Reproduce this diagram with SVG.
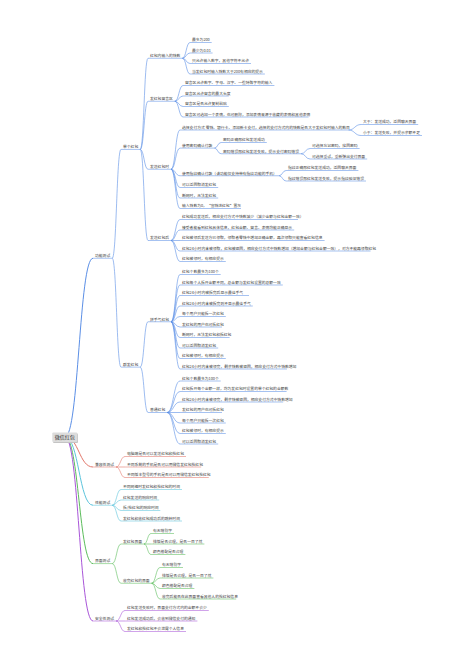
<svg xmlns="http://www.w3.org/2000/svg" width="474" height="670" viewBox="0 0 474 670">
<style>
.t{font-family:"Noto Sans CJK SC","Noto Sans CJK JP",sans-serif;font-size:3.8px;fill:#404040}
.r{font-family:"Noto Sans CJK SC","Noto Sans CJK JP",sans-serif;font-size:5px;fill:#222;text-anchor:middle}
.u{fill:none;stroke-width:.55}
.c{fill:none;stroke-width:.6}
.c1{fill:none;stroke-width:1}
.bl{stroke:#5b8fe6}.rd{stroke:#e2766a}.tl{stroke:#5cc4dc}.gn{stroke:#5cbd5c}.pp{stroke:#a956d9}
</style>
<rect width="474" height="670" fill="#fff"/>
<g id="connectors">
<path class="c1 bl" d="M65 437C79 437 79 258.25 93 258.25"/>
<path class="c1 rd" d="M65 437C79 437 79 467 93 467"/>
<path class="c1 tl" d="M65 437C79 437 79 505.25 93 505.25"/>
<path class="c1 gn" d="M65 437C79 437 79 563.6 93 563.6"/>
<path class="c1 pp" d="M65 437C79 437 79 621 93 621"/>
<path class="c bl" d="M112.2 258.25C116.6 258.25 116.6 149.4 121 149.4M112.2 258.25C116.6 258.25 116.6 367.1 121 367.1"/>
<path class="c bl" d="M140.2 149.4C144.1 149.4 144.1 58.25 148 58.25M140.2 149.4C144.1 149.4 144.1 101.25 148 101.25M140.2 149.4C144.1 149.4 144.1 169.25 148 169.25M140.2 149.4C144.1 149.4 144.1 240.5 148 240.5"/>
<path class="c bl" d="M140.2 367.1C144.1 367.1 144.1 321.75 148 321.75M140.2 367.1C144.1 367.1 144.1 412.5 148 412.5"/>
<path class="c bl" d="M182.4 58.25C186.2 58.25 186.2 42.5 190 42.5M182.4 58.25C186.2 58.25 186.2 53 190 53M182.4 58.25C186.2 58.25 186.2 63.5 190 63.5M182.4 58.25C186.2 58.25 186.2 74 190 74"/>
<path class="c bl" d="M174.8 101.25C178.9 101.25 178.9 85.5 183 85.5M174.8 101.25C178.9 101.25 178.9 96 183 96M174.8 101.25C178.9 101.25 178.9 106.5 183 106.5M174.8 101.25C178.9 101.25 178.9 117 183 117"/>
<path class="c bl" d="M171 169.25C175.5 169.25 175.5 130 180 130M171 169.25C175.5 169.25 175.5 148.1 180 148.1M171 169.25C175.5 169.25 175.5 175.75 180 175.75M171 169.25C175.5 169.25 175.5 187.5 180 187.5M171 169.25C175.5 169.25 175.5 198 180 198M171 169.25C175.5 169.25 175.5 208.5 180 208.5"/>
<path class="c bl" d="M348.5 130C354.75 130 354.75 124.5 361 124.5M348.5 130C354.75 130 354.75 135.5 361 135.5"/>
<path class="c bl" d="M214.4 148.1C217.7 148.1 217.7 142.5 221 142.5M214.4 148.1C217.7 148.1 217.7 153.75 221 153.75"/>
<path class="c bl" d="M301 153.75C305.5 153.75 305.5 148.5 310 148.5M301 153.75C305.5 153.75 305.5 159 310 159"/>
<path class="c bl" d="M279 175.75C282.5 175.75 282.5 170.5 286 170.5M279 175.75C282.5 175.75 282.5 181 286 181"/>
<path class="c bl" d="M171 240.5C175.5 240.5 175.5 219.5 180 219.5M171 240.5C175.5 240.5 175.5 230 180 230M171 240.5L180 240.5M171 240.5C175.5 240.5 175.5 251 180 251M171 240.5C175.5 240.5 175.5 261.5 180 261.5"/>
<path class="c bl" d="M171 321.75C175.5 321.75 175.5 274.5 180 274.5M171 321.75C175.5 321.75 175.5 285 180 285M171 321.75C175.5 321.75 175.5 295.5 180 295.5M171 321.75C175.5 321.75 175.5 306 180 306M171 321.75C175.5 321.75 175.5 316.5 180 316.5M171 321.75C175.5 321.75 175.5 327 180 327M171 321.75C175.5 321.75 175.5 337.5 180 337.5M171 321.75C175.5 321.75 175.5 348 180 348M171 321.75C175.5 321.75 175.5 358.5 180 358.5M171 321.75C175.5 321.75 175.5 369 180 369"/>
<path class="c bl" d="M167.2 412.5C173.6 412.5 173.6 381 180 381M167.2 412.5C173.6 412.5 173.6 391.5 180 391.5M167.2 412.5C173.6 412.5 173.6 402 180 402M167.2 412.5L180 412.5M167.2 412.5C173.6 412.5 173.6 423 180 423M167.2 412.5C173.6 412.5 173.6 433.5 180 433.5M167.2 412.5C173.6 412.5 173.6 444 180 444"/>
<path class="c rd" d="M116 467C120.5 467 120.5 456.5 125 456.5M116 467L125 467M116 467C120.5 467 120.5 477.5 125 477.5"/>
<path class="c tl" d="M112.2 505.25C116.6 505.25 116.6 489.5 121 489.5M112.2 505.25C116.6 505.25 116.6 500 121 500M112.2 505.25C116.6 505.25 116.6 510.5 121 510.5M112.2 505.25C116.6 505.25 116.6 521 121 521"/>
<path class="c gn" d="M112.2 563.6C116.6 563.6 116.6 544 121 544M112.2 563.6C116.6 563.6 116.6 583.25 121 583.25"/>
<path class="c gn" d="M144 544C147.5 544 147.5 533.5 151 533.5M144 544L151 544M144 544C147.5 544 147.5 554.5 151 554.5"/>
<path class="c gn" d="M151.6 583.25C155.8 583.25 155.8 567.5 160 567.5M151.6 583.25C155.8 583.25 155.8 578 160 578M151.6 583.25C155.8 583.25 155.8 588.5 160 588.5M151.6 583.25C155.8 583.25 155.8 599 160 599"/>
<path class="c pp" d="M116 621C120.5 621 120.5 610.5 125 610.5M116 621L125 621M116 621C120.5 621 120.5 631.5 125 631.5"/>
</g>
<g id="root">
<rect x="53" y="433.5" width="25" height="9.5" rx="1" fill="#c4c4c4"/>
<rect x="52.3" y="432.5" width="25" height="9.5" rx="1" fill="#dcdcdc"/>
<text class="r" x="64.8" y="439.1">微信红包</text>
</g>
<g id="n-func"><line class="u bl" x1="93" y1="258.25" x2="112.2" y2="258.25"/><text class="t" x="95" y="257.05">功能测试</text></g>
<g id="n-compat"><line class="u rd" x1="93" y1="467" x2="116" y2="467"/><text class="t" x="95" y="465.8">兼容性测试</text></g>
<g id="n-perf"><line class="u tl" x1="93" y1="505.25" x2="112.2" y2="505.25"/><text class="t" x="95" y="504.05">性能测试</text></g>
<g id="n-ui"><line class="u gn" x1="93" y1="563.6" x2="112.2" y2="563.6"/><text class="t" x="95" y="562.4">界面测试</text></g>
<g id="n-sec"><line class="u pp" x1="93" y1="621" x2="116" y2="621"/><text class="t" x="95" y="619.8">安全性测试</text></g>
<g id="n-single"><line class="u bl" x1="121" y1="149.4" x2="140.2" y2="149.4"/><text class="t" x="123" y="148.2">单个红包</text></g>
<g id="n-group"><line class="u bl" x1="121" y1="367.1" x2="140.2" y2="367.1"/><text class="t" x="123" y="365.9">群发红包</text></g>
<g id="n-amount"><line class="u bl" x1="148" y1="58.25" x2="182.4" y2="58.25"/><text class="t" x="150" y="57.05">红包内输入的钱数</text></g>
<g id="n-msg"><line class="u bl" x1="148" y1="101.25" x2="174.8" y2="101.25"/><text class="t" x="150" y="100.05">发红包留言区</text></g>
<g id="n-sending"><line class="u bl" x1="148" y1="169.25" x2="171" y2="169.25"/><text class="t" x="150" y="168.05">发送红包时</text></g>
<g id="n-sent"><line class="u bl" x1="148" y1="240.5" x2="171" y2="240.5"/><text class="t" x="150" y="239.3">发送红包后</text></g>
<g id="n-lucky"><line class="u bl" x1="148" y1="321.75" x2="171" y2="321.75"/><text class="t" x="150" y="320.55">拼手气红包</text></g>
<g id="n-normal"><line class="u bl" x1="148" y1="412.5" x2="167.2" y2="412.5"/><text class="t" x="150" y="411.3">普通红包</text></g>
<g id="a1"><line class="u bl" x1="190" y1="42.5" x2="211.7" y2="42.5"/><text class="t" x="192" y="41.3">最多为200</text></g>
<g id="a2"><line class="u bl" x1="190" y1="53" x2="212.6" y2="53"/><text class="t" x="192" y="51.8">最少为0.01</text></g>
<g id="a3"><line class="u bl" x1="190" y1="63.5" x2="251" y2="63.5"/><text class="t" x="192" y="62.3">只允许输入数字，其他字符不允许</text></g>
<g id="a4"><line class="u bl" x1="190" y1="74" x2="264.9" y2="74"/><text class="t" x="192" y="72.8">当发红包时输入钱数大于200有相应的提示</text></g>
<g id="m1"><line class="u bl" x1="183" y1="85.5" x2="274.4" y2="85.5"/><text class="t" x="185" y="84.3">留言区允许数字、字母、汉字、一些特殊字符的输入</text></g>
<g id="m2"><line class="u bl" x1="183" y1="96" x2="228.8" y2="96"/><text class="t" x="185" y="94.8">留言区允许留言的最大长度</text></g>
<g id="m3"><line class="u bl" x1="183" y1="106.5" x2="228.8" y2="106.5"/><text class="t" x="185" y="105.3">留言区是否允许复制粘贴</text></g>
<g id="m4"><line class="u bl" x1="183" y1="117" x2="308.6" y2="117"/><text class="t" x="185" y="115.8">留言区可选加一个表情，也可删除，添加表情来源于收藏的表情和其他表情</text></g>
<g id="s1"><line class="u bl" x1="180" y1="130" x2="348.5" y2="130"/><text class="t" x="182" y="128.8">选择支付方式 零钱、银行卡、添加新卡支付，选择的支付方式内的钱数是否大于发红包时输入的数目</text></g>
<g id="s1a"><line class="u bl" x1="361" y1="124.5" x2="418.2" y2="124.5"/><text class="t" x="363" y="123.3">大于：发送成功，返回聊天界面</text></g>
<g id="s1b"><line class="u bl" x1="361" y1="135.5" x2="422" y2="135.5"/><text class="t" x="363" y="134.3">小于：发送失败，并提示余额不足</text></g>
<g id="s2"><line class="u bl" x1="180" y1="148.1" x2="214.4" y2="148.1"/><text class="t" x="182" y="146.9">使用密码确认付款</text></g>
<g id="s2a"><line class="u bl" x1="221" y1="142.5" x2="266.8" y2="142.5"/><text class="t" x="223" y="141.3">密码正确即红包发送成功</text></g>
<g id="s2b"><line class="u bl" x1="221" y1="153.75" x2="301" y2="153.75"/><text class="t" x="223" y="152.55">密码错误即红包发送失败，提示支付密码错误</text></g>
<g id="s2b1"><line class="u bl" x1="310" y1="148.5" x2="359.6" y2="148.5"/><text class="t" x="312" y="147.3">可选择忘记密码，找回密码</text></g>
<g id="s2b2"><line class="u bl" x1="310" y1="159" x2="367.2" y2="159"/><text class="t" x="312" y="157.8">可选择重试，重新弹出支付界面</text></g>
<g id="s3"><line class="u bl" x1="180" y1="175.75" x2="279" y2="175.75"/><text class="t" x="182" y="174.55">使用指纹确认付款（该功能仅支持带有指纹功能的手机）</text></g>
<g id="s3a"><line class="u bl" x1="286" y1="170.5" x2="358.4" y2="170.5"/><text class="t" x="288" y="169.3">指纹正确即红包发送成功，返回聊天界面</text></g>
<g id="s3b"><line class="u bl" x1="286" y1="181" x2="366" y2="181"/><text class="t" x="288" y="179.8">指纹错误即红包发送失败，提示指纹验证错误</text></g>
<g id="s4"><line class="u bl" x1="180" y1="187.5" x2="218.2" y2="187.5"/><text class="t" x="182" y="186.3">可以返回取消发红包</text></g>
<g id="s5"><line class="u bl" x1="180" y1="198" x2="218.2" y2="198"/><text class="t" x="182" y="196.8">断网时，无法发红包</text></g>
<g id="s6"><line class="u bl" x1="180" y1="208.5" x2="241" y2="208.5"/><text class="t" x="182" y="207.3">输入钱数为0，“塞钱进红包”置灰</text></g>
<g id="t1"><line class="u bl" x1="180" y1="219.5" x2="298" y2="219.5"/><text class="t" x="182" y="218.3">红包成功发送后，相应支付方式中钱数减少（减少金额与红包金额一致）</text></g>
<g id="t2"><line class="u bl" x1="180" y1="230" x2="294.2" y2="230"/><text class="t" x="182" y="228.8">接受者能看到红包具体信息，红包金额、留言、表情均能正确显示</text></g>
<g id="t3"><line class="u bl" x1="180" y1="240.5" x2="324.6" y2="240.5"/><text class="t" x="182" y="239.3">红包被领后发送方已领取，领取者零钱中增加正确金额，再次领取只能查看红包信息</text></g>
<g id="t4"><line class="u bl" x1="180" y1="251" x2="370.6" y2="251"/><text class="t" x="182" y="249.8">红包24小时内未被领取，红包被退回，相应支付方式中钱数增加（增加金额与红包金额一致），对方不能再领取红包</text></g>
<g id="t5"><line class="u bl" x1="180" y1="261.5" x2="225.8" y2="261.5"/><text class="t" x="182" y="260.3">红包被领时，有相应提示</text></g>
<g id="l1"><line class="u bl" x1="180" y1="274.5" x2="220.7" y2="274.5"/><text class="t" x="182" y="273.3">红包个数最多为100个</text></g>
<g id="l2"><line class="u bl" x1="180" y1="285" x2="282.8" y2="285"/><text class="t" x="182" y="283.8">红包每个人拆开金额不同，总金额与发红包设置的总额一致</text></g>
<g id="l3"><line class="u bl" x1="180" y1="295.5" x2="249" y2="295.5"/><text class="t" x="182" y="294.3">红包24小时内被拆完后显示最佳手气</text></g>
<g id="l4"><line class="u bl" x1="180" y1="306" x2="252.8" y2="306"/><text class="t" x="182" y="304.8">红包24小时内未被拆完则不显示最佳手气</text></g>
<g id="l5"><line class="u bl" x1="180" y1="316.5" x2="225.8" y2="316.5"/><text class="t" x="182" y="315.3">每个用户只能拆一次红包</text></g>
<g id="l6"><line class="u bl" x1="180" y1="327" x2="222" y2="327"/><text class="t" x="182" y="325.8">发红包的用户也可拆红包</text></g>
<g id="l7"><line class="u bl" x1="180" y1="337.5" x2="229.6" y2="337.5"/><text class="t" x="182" y="336.3">断网时，无法发红包和拆红包</text></g>
<g id="l8"><line class="u bl" x1="180" y1="348" x2="218.2" y2="348"/><text class="t" x="182" y="346.8">可以返回取消发红包</text></g>
<g id="l9"><line class="u bl" x1="180" y1="358.5" x2="225.8" y2="358.5"/><text class="t" x="182" y="357.3">红包被领时，有相应提示</text></g>
<g id="l10"><line class="u bl" x1="180" y1="369" x2="287" y2="369"/><text class="t" x="182" y="367.8">红包24小时内未被领完，剩余钱数被退回，相应支付方式中钱数增加</text></g>
<g id="p1"><line class="u bl" x1="180" y1="381" x2="220.7" y2="381"/><text class="t" x="182" y="379.8">红包个数最多为100个</text></g>
<g id="p2"><line class="u bl" x1="180" y1="391.5" x2="286.6" y2="391.5"/><text class="t" x="182" y="390.3">红包拆开每个金额一样，均为发红包时设置的单个红包的金额数</text></g>
<g id="p3"><line class="u bl" x1="180" y1="402" x2="283.2" y2="402"/><text class="t" x="182" y="400.8">红包24小时内未被领完，剩余钱被退回，相应支付方式中钱数增加</text></g>
<g id="p4"><line class="u bl" x1="180" y1="412.5" x2="222" y2="412.5"/><text class="t" x="182" y="411.3">发红包的用户也可拆红包</text></g>
<g id="p5"><line class="u bl" x1="180" y1="423" x2="225.8" y2="423"/><text class="t" x="182" y="421.8">每个用户只能拆一次红包</text></g>
<g id="p6"><line class="u bl" x1="180" y1="433.5" x2="225.8" y2="433.5"/><text class="t" x="182" y="432.3">红包被领时，有相应提示</text></g>
<g id="p7"><line class="u bl" x1="180" y1="444" x2="218.2" y2="444"/><text class="t" x="182" y="442.8">可以返回取消发红包</text></g>
<g id="c1"><line class="u rd" x1="125" y1="456.5" x2="186" y2="456.5"/><text class="t" x="127" y="455.3">电脑端是否可以发送红包和抢红包</text></g>
<g id="c2"><line class="u rd" x1="125" y1="467" x2="201.2" y2="467"/><text class="t" x="127" y="465.8">不同系统的手机是否可以用微信发红包抢红包</text></g>
<g id="c3"><line class="u rd" x1="125" y1="477.5" x2="208.8" y2="477.5"/><text class="t" x="127" y="476.3">不同版本型号的手机是否可以用微信发红包抢红包</text></g>
<g id="f1"><line class="u tl" x1="121" y1="489.5" x2="182" y2="489.5"/><text class="t" x="123" y="488.3">不同网速时发红包和抢红包的时间</text></g>
<g id="f2"><line class="u tl" x1="121" y1="500" x2="159.2" y2="500"/><text class="t" x="123" y="498.8">红包发送的响应时间</text></g>
<g id="f3"><line class="u tl" x1="121" y1="510.5" x2="160.3" y2="510.5"/><text class="t" x="123" y="509.3">拆/抢红包的响应时间</text></g>
<g id="f4"><line class="u tl" x1="121" y1="521" x2="182" y2="521"/><text class="t" x="123" y="519.8">发红包和收红包成功后的跳转时间</text></g>
<g id="n-ui-send"><line class="u gn" x1="121" y1="544" x2="144" y2="544"/><text class="t" x="123" y="542.8">发红包界面</text></g>
<g id="n-ui-recv"><line class="u gn" x1="121" y1="583.25" x2="151.6" y2="583.25"/><text class="t" x="123" y="582.05">收完红包的界面</text></g>
<g id="g1"><line class="u gn" x1="151" y1="533.5" x2="174" y2="533.5"/><text class="t" x="153" y="532.3">有无错别字</text></g>
<g id="g2"><line class="u gn" x1="151" y1="544" x2="204.4" y2="544"/><text class="t" x="153" y="542.8">排版是否合理，是否一目了然</text></g>
<g id="g3"><line class="u gn" x1="151" y1="554.5" x2="185.4" y2="554.5"/><text class="t" x="153" y="553.3">颜色搭配是否合理</text></g>
<g id="h1"><line class="u gn" x1="160" y1="567.5" x2="183" y2="567.5"/><text class="t" x="162" y="566.3">有无错别字</text></g>
<g id="h2"><line class="u gn" x1="160" y1="578" x2="213.4" y2="578"/><text class="t" x="162" y="576.8">排版是否合理，是否一目了然</text></g>
<g id="h3"><line class="u gn" x1="160" y1="588.5" x2="194.4" y2="588.5"/><text class="t" x="162" y="587.3">颜色搭配是否合理</text></g>
<g id="h4"><line class="u gn" x1="160" y1="599" x2="236.2" y2="599"/><text class="t" x="162" y="597.8">收完后能否在此界面查看其他人的抢红包信息</text></g>
<g id="k1"><line class="u pp" x1="125" y1="610.5" x2="208.8" y2="610.5"/><text class="t" x="127" y="609.3">红包发送失败时，界面支付方式内的金额不会少</text></g>
<g id="k2"><line class="u pp" x1="125" y1="621" x2="197.4" y2="621"/><text class="t" x="127" y="619.8">红包发送成功后，会收到微信支付的通知</text></g>
<g id="k3"><line class="u pp" x1="125" y1="631.5" x2="186" y2="631.5"/><text class="t" x="127" y="630.3">发红包和抢红包不会泄露个人信息</text></g>
</svg>
